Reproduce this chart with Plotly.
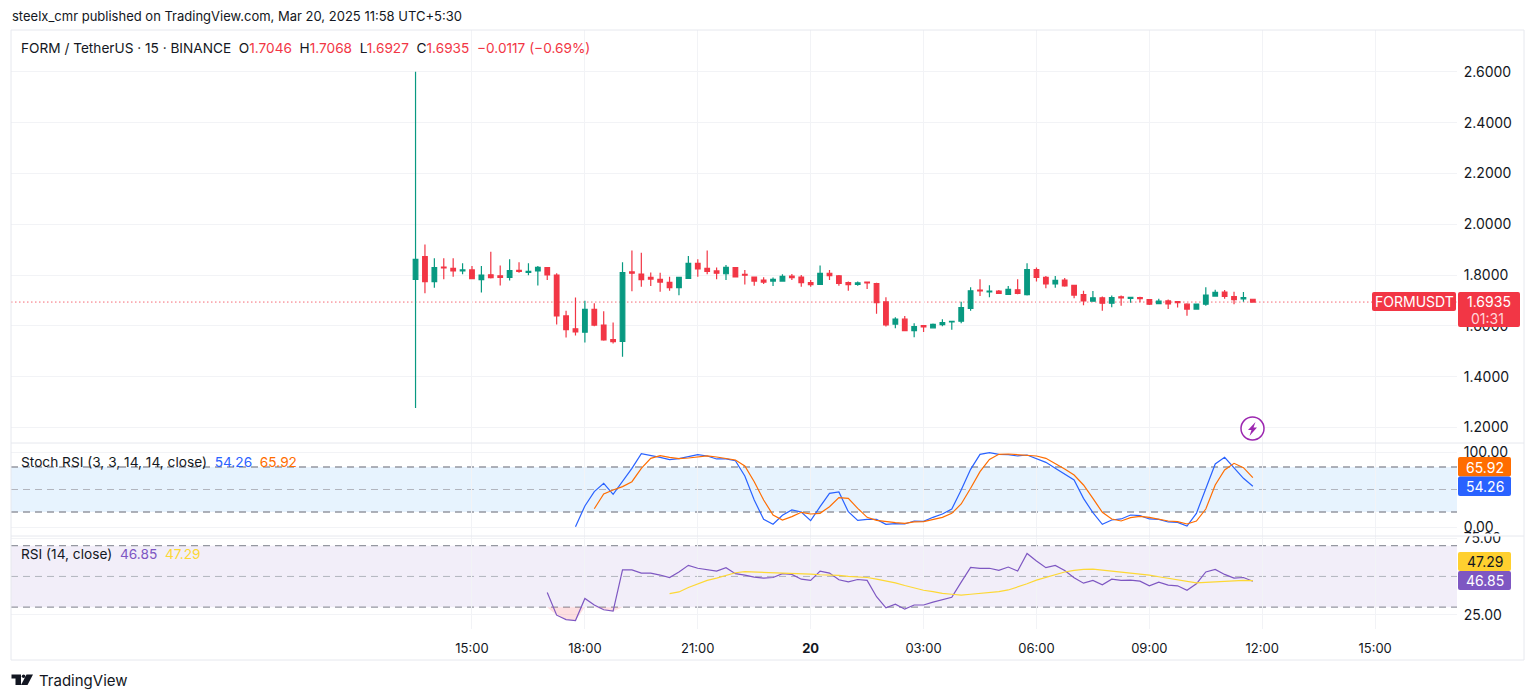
import pandas as pd
import plotly.graph_objects as go

# 15 minute candles, FORM/USDT, first one is the listing spike
times = pd.date_range("2025-03-19 13:30", periods=90, freq="15min")

opens = [1.783, 1.872, 1.774, 1.831, 1.826, 1.816, 1.820, 1.782, 1.801, 1.797,
         1.791, 1.818, 1.810, 1.816, 1.829, 1.800, 1.639, 1.588, 1.575, 1.665,
         1.603, 1.546, 1.539, 1.812, 1.804, 1.791, 1.783, 1.771, 1.750, 1.787,
         1.846, 1.826, 1.816, 1.805, 1.829, 1.803, 1.792, 1.780, 1.776, 1.776,
         1.796, 1.792, 1.770, 1.763, 1.807, 1.797, 1.770, 1.763, 1.772, 1.766,
         1.694, 1.607, 1.626, 1.581, 1.601, 1.592, 1.605, 1.615, 1.618, 1.669,
         1.741, 1.733, 1.737, 1.724, 1.742, 1.723, 1.821, 1.791, 1.765, 1.780,
         1.759, 1.723, 1.697, 1.710, 1.689, 1.714, 1.708, 1.711, 1.703, 1.687,
         1.698, 1.695, 1.685, 1.666, 1.685, 1.717, 1.733, 1.715, 1.706, 1.7046]
highs = [2.600, 1.920, 1.866, 1.866, 1.866, 1.846, 1.835, 1.835, 1.892, 1.837,
         1.862, 1.850, 1.846, 1.835, 1.830, 1.807, 1.659, 1.711, 1.699, 1.689,
         1.657, 1.613, 1.850, 1.896, 1.888, 1.810, 1.809, 1.793, 1.791, 1.875,
         1.862, 1.896, 1.830, 1.839, 1.829, 1.820, 1.793, 1.791, 1.790, 1.803,
         1.804, 1.800, 1.780, 1.837, 1.820, 1.800, 1.774, 1.774, 1.772, 1.770,
         1.712, 1.634, 1.639, 1.610, 1.603, 1.609, 1.626, 1.619, 1.695, 1.752,
         1.783, 1.760, 1.741, 1.757, 1.783, 1.846, 1.830, 1.796, 1.796, 1.788,
         1.759, 1.738, 1.737, 1.715, 1.719, 1.719, 1.712, 1.714, 1.704, 1.707,
         1.704, 1.698, 1.689, 1.685, 1.752, 1.742, 1.741, 1.734, 1.733, 1.7068]
lows = [1.276, 1.728, 1.750, 1.783, 1.793, 1.803, 1.783, 1.731, 1.786, 1.759,
        1.778, 1.809, 1.799, 1.759, 1.780, 1.605, 1.554, 1.562, 1.534, 1.598,
        1.541, 1.530, 1.478, 1.736, 1.754, 1.757, 1.734, 1.738, 1.720, 1.787,
        1.793, 1.803, 1.783, 1.780, 1.791, 1.763, 1.758, 1.765, 1.757, 1.774,
        1.780, 1.754, 1.754, 1.763, 1.780, 1.758, 1.738, 1.758, 1.745, 1.647,
        1.597, 1.590, 1.579, 1.555, 1.576, 1.590, 1.598, 1.584, 1.610, 1.659,
        1.717, 1.712, 1.725, 1.721, 1.724, 1.719, 1.774, 1.748, 1.750, 1.754,
        1.708, 1.681, 1.695, 1.659, 1.673, 1.679, 1.691, 1.693, 1.682, 1.685,
        1.666, 1.672, 1.640, 1.666, 1.679, 1.715, 1.707, 1.685, 1.695, 1.6927]
closes = [1.862, 1.774, 1.829, 1.828, 1.816, 1.820, 1.786, 1.800, 1.790, 1.791,
          1.817, 1.814, 1.814, 1.830, 1.800, 1.639, 1.585, 1.576, 1.665, 1.603,
          1.545, 1.538, 1.809, 1.807, 1.782, 1.784, 1.772, 1.750, 1.791, 1.846,
          1.824, 1.814, 1.807, 1.830, 1.793, 1.799, 1.776, 1.772, 1.783, 1.795,
          1.790, 1.770, 1.762, 1.807, 1.797, 1.767, 1.762, 1.769, 1.769, 1.691,
          1.604, 1.626, 1.581, 1.597, 1.596, 1.606, 1.613, 1.618, 1.672, 1.738,
          1.737, 1.737, 1.728, 1.744, 1.728, 1.821, 1.791, 1.765, 1.779, 1.757,
          1.721, 1.698, 1.710, 1.689, 1.711, 1.710, 1.712, 1.707, 1.685, 1.697,
          1.686, 1.691, 1.666, 1.685, 1.721, 1.732, 1.716, 1.703, 1.711, 1.6935]

# Stoch RSI, %K starts on candle 18 and %D on candle 20
stoch_k = [0.4, 28.0, 47.1, 58.2, 43.6, 60.4, 78.2, 97.8, 95.6, 92.9,
           89.8, 91.1, 93.8, 96.4, 94.7, 90.7, 90.7, 88.4, 68.0, 36.0,
           10.2, 3.6, 15.6, 22.7, 20.0, 8.4, 27.1, 44.9, 46.7, 20.4,
           8.9, 10.2, 10.2, 3.6, 4.4, 4.0, 8.0, 7.6, 12.9, 17.3,
           24.0, 49.3, 76.9, 96.9, 99.1, 96.9, 96.4, 94.7, 96.0, 91.6,
           86.2, 78.2, 70.7, 62.7, 38.2, 19.1, 3.6, 9.3, 10.7, 16.0,
           15.1, 10.7, 10.2, 6.7, 6.2, 1.3, 18.2, 51.6, 84.0, 92.9,
           78.2, 64.9, 54.26]
stoch_d = [24.4, 44.0, 49.3, 53.8, 60.4, 78.2, 91.6, 95.1, 92.9, 91.1,
           92.0, 93.8, 94.7, 93.3, 91.1, 89.3, 81.3, 60.4, 36.0, 16.0,
           9.3, 13.8, 19.6, 17.3, 18.2, 27.1, 39.1, 38.2, 24.9, 12.9,
           8.9, 7.1, 5.8, 4.9, 6.7, 7.1, 10.2, 12.9, 18.2, 30.7,
           51.6, 73.8, 90.2, 96.9, 97.3, 96.4, 96.0, 94.7, 91.6, 84.9,
           77.3, 69.3, 56.0, 38.2, 19.6, 10.7, 8.0, 12.4, 14.2, 12.9,
           10.7, 8.0, 7.1, 4.0, 8.0, 24.0, 56.0, 76.0, 84.9, 79.1,
           65.92]

# RSI starts on candle 15, its moving average on candle 28
rsi = [39.5, 24.8, 21.9, 21.3, 35.7, 31.4, 28.3, 27.4, 54.2, 54.2,
       52.2, 52.2, 50.9, 49.3, 52.9, 57.2, 55.3, 54.2, 53.5, 55.7,
       51.8, 50.9, 49.6, 48.9, 49.3, 51.8, 51.3, 48.2, 47.4, 53.5,
       52.2, 47.8, 46.5, 48.0, 47.4, 36.8, 29.6, 32.0, 28.7, 31.4,
       31.4, 33.3, 35.1, 36.4, 46.3, 55.9, 55.3, 55.3, 53.9, 56.1,
       53.5, 64.9, 60.1, 55.7, 57.2, 53.9, 49.1, 45.6, 47.4, 44.5,
       48.2, 47.4, 47.6, 46.9, 43.9, 46.3, 44.3, 43.9, 41.0, 45.2,
       52.9, 54.6, 51.3, 48.9, 49.3, 46.85]
rsi_ma = [38.8, 39.9, 42.8, 45.2, 47.4, 48.9, 50.9, 52.4, 53.1, 52.9,
          52.6, 52.4, 52.4, 52.2, 52.0, 51.5, 51.1, 50.9, 50.7, 50.0,
          49.6, 49.3, 48.2, 47.1, 45.8, 44.1, 42.3, 41.0, 40.1, 39.0,
          38.4, 37.9, 38.4, 39.0, 39.5, 40.1, 41.2, 43.0, 45.2, 47.6,
          49.3, 51.1, 52.9, 53.9, 54.6, 54.8, 54.2, 53.5, 52.9, 52.4,
          51.8, 50.9, 49.8, 48.7, 47.6, 46.5, 45.8, 46.1, 46.5, 46.9,
          47.1, 47.4, 47.29]

price_ticks = [1.2, 1.4, 1.6, 1.8, 2.0, 2.2, 2.4, 2.6]
time_ticks = ["2025-03-19 15:00", "2025-03-19 18:00", "2025-03-19 21:00",
              "2025-03-20 00:00", "2025-03-20 03:00", "2025-03-20 06:00",
              "2025-03-20 09:00", "2025-03-20 12:00", "2025-03-20 15:00"]
time_labels = ["15:00", "18:00", "21:00", "<b>20</b>", "03:00", "06:00",
               "09:00", "12:00", "15:00"]
last_price = 1.6935

W, H = 1536, 700
GREEN, RED = "#089981", "#F23645"
BLUE, ORANGE, PURPLE, YELLOW = "#2962FF", "#FF6D00", "#7E57C2", "#FDD835"
BADGE = "#9C27B0"
INK = "#131722"
GRID = "#F2F3F6"
EDGE = "#E6E8EE"
FONT = "Inter"


def fx(px):
    return px / W


def fy(px):
    return 1 - px / H


def poly(points):
    return "M" + " L".join(f"{fx(x)},{fy(y)}" for x, y in points) + " Z"


def round_box(x0, y0, x1, y1, r=2):
    return (f"M{fx(x0 + r)},{fy(y0)} L{fx(x1 - r)},{fy(y0)} Q{fx(x1)},{fy(y0)} {fx(x1)},{fy(y0 + r)} "
            f"L{fx(x1)},{fy(y1 - r)} Q{fx(x1)},{fy(y1)} {fx(x1 - r)},{fy(y1)} "
            f"L{fx(x0 + r)},{fy(y1)} Q{fx(x0)},{fy(y1)} {fx(x0)},{fy(y1 - r)} "
            f"L{fx(x0)},{fy(y0 + r)} Q{fx(x0)},{fy(y0)} {fx(x0 + r)},{fy(y0)} Z")


def label(text, x, y, size=13, color=INK, xanchor="left"):
    return dict(text=text, x=fx(x), y=fy(y), xref="paper", yref="paper", xanchor=xanchor,
                yanchor="middle", showarrow=False, align="left", borderpad=0,
                font=dict(family=FONT, size=size, color=color))


def solid(path, color):
    return dict(type="path", path=path, xref="paper", yref="paper",
                fillcolor=color, line=dict(width=0), layer="above")


def tag(x0, y0, x1, y1, color):
    return solid(round_box(x0, y0, x1, y1), color)


def hline(y0, yref, color="#9598A1", dash="7px,5px", width=1.3):
    return dict(type="line", xref="x", yref=yref, x0=xrange[0], x1=xrange[1], y0=y0, y1=y0,
                line=dict(color=color, width=width, dash=dash), layer="below")


def band(y0, y1, yref, color):
    return dict(type="rect", xref="x", yref=yref, x0=xrange[0], x1=xrange[1], y0=y0, y1=y1,
                fillcolor=color, line=dict(width=0), layer="below")


def rule(x0, y0, x1, y1, color=EDGE):
    return dict(type="line", xref="paper", yref="paper", x0=fx(x0), y0=fy(y0), x1=fx(x1), y1=fy(y1),
                line=dict(color=color, width=1), layer="above")


xrange = ["2025-03-19 02:45", "2025-03-20 17:10:30"]

fig = go.Figure()
fig.add_trace(go.Candlestick(
    x=times, open=opens, high=highs, low=lows, close=closes, whiskerwidth=0,
    increasing=dict(line=dict(color=GREEN, width=1.2), fillcolor=GREEN),
    decreasing=dict(line=dict(color=RED, width=1.2), fillcolor=RED),
    xaxis="x", yaxis="y", showlegend=False,
))
fig.add_trace(go.Scatter(x=times[17:], y=stoch_k, mode="lines", line=dict(color=BLUE, width=1.2),
                         xaxis="x2", yaxis="y2", showlegend=False))
fig.add_trace(go.Scatter(x=times[19:], y=stoch_d, mode="lines", line=dict(color=ORANGE, width=1.2),
                         xaxis="x2", yaxis="y2", showlegend=False))

# pink area where the RSI dips under 30
fig.add_trace(go.Scatter(x=times[14:23], y=[30] * 9, mode="lines", line=dict(width=0),
                         xaxis="x3", yaxis="y3", showlegend=False))
fig.add_trace(go.Scatter(x=times[14:23], y=[min(v, 30) for v in rsi[:9]], mode="lines", line=dict(width=0),
                         fill="tonexty", fillcolor="rgba(242,54,69,0.16)",
                         xaxis="x3", yaxis="y3", showlegend=False))
fig.add_trace(go.Scatter(x=times[14:], y=rsi, mode="lines", line=dict(color=PURPLE, width=1.2),
                         xaxis="x3", yaxis="y3", showlegend=False))
fig.add_trace(go.Scatter(x=times[27:], y=rsi_ma, mode="lines", line=dict(color=YELLOW, width=1.2),
                         xaxis="x3", yaxis="y3", showlegend=False))

x_common = dict(range=xrange, domain=[fx(11), fx(1457)], type="date", tickmode="array", tickvals=time_ticks,
                showgrid=True, gridcolor=GRID, gridwidth=1, zeroline=False, showline=False, automargin=False,
                rangeslider=dict(visible=False))
y_common = dict(side="right", showgrid=True, gridcolor=GRID, gridwidth=1, zeroline=False, showline=False,
                automargin=False, ticks="outside", ticklen=3, tickcolor="rgba(0,0,0,0)",
                tickfont=dict(family=FONT, size=14, color=INK))

shapes = [
    band(20, 80, "y2", "rgba(33,150,243,0.11)"),
    hline(80, "y2"), hline(50, "y2", color="#B2B5BE", width=1), hline(20, "y2"),
    band(30, 70, "y3", "rgba(126,87,194,0.1)"),
    hline(70, "y3"), hline(50, "y3", color="#B2B5BE", width=1), hline(30, "y3"),
    hline(last_price, "y", color="rgba(242,54,69,0.75)", dash="1.5px,2.5px", width=1),
    # keeps the top of the 75.00 label under the pane edge, like the reference
    dict(type="rect", xref="paper", yref="paper", x0=fx(1458), x1=fx(1522), y0=fy(533.5), y1=fy(536),
         fillcolor="white", line=dict(width=0), layer="above"),
    rule(11, 30, 1524, 30), rule(11, 30, 11, 660), rule(1524, 30, 1524, 660), rule(11, 660, 1524, 660),
    rule(11, 443, 1524, 443), rule(11, 536, 1524, 536),
    tag(1372, 292, 1456, 311, RED),
    tag(1458, 292, 1520, 327, RED),
    tag(1458, 457, 1511, 476.5, ORANGE),
    tag(1458, 476.5, 1511, 496, BLUE),
    tag(1458, 552, 1511, 571, "#FFD02F"),
    tag(1458, 571, 1511, 590, PURPLE),
    # lightning badge
    dict(type="circle", xref="paper", yref="paper", x0=fx(1241), x1=fx(1264), y0=fy(417), y1=fy(440),
         fillcolor="white", line=dict(color=BADGE, width=1.5), layer="above"),
    solid(poly([(1255.5, 422), (1248, 430), (1251.5, 430), (1249.5, 436), (1257, 427.5), (1253.5, 427.5)]), BADGE),
    # TradingView logo
    solid(poly([(11.5, 674.5), (21, 674.5), (21, 685), (15.5, 685), (15.5, 678.5), (11.5, 678.5)]), INK),
    dict(type="circle", xref="paper", yref="paper", fillcolor=INK, line=dict(width=0), layer="above",
         x0=fx(21.8), x1=fx(25.4), y0=fy(674.5), y1=fy(678.1)),
    solid(poly([(26.5, 674.5), (33, 674.5), (27.5, 685), (21, 685)]), INK),
]

annotations = [
    label("steelx_cmr published on TradingView.com, Mar 20, 2025 11:58 UTC+5:30", 11, 16),
    label(f'FORM / TetherUS · 15 · BINANCE  O<span style="color:{RED}">1.7046</span>'
          f'  H<span style="color:{RED}">1.7068</span>  L<span style="color:{RED}">1.6927</span>'
          f'  C<span style="color:{RED}">1.6935</span>  <span style="color:{RED}">−0.0117 (−0.69%)</span>',
          20, 48, size=13.65),
    label(f'Stoch RSI (3, 3, 14, 14, close)  <span style="color:{BLUE}">54.26</span>'
          f'  <span style="color:{ORANGE}">65.92</span>', 20, 462, size=13.7),
    label(f'RSI (14, close)  <span style="color:{PURPLE}">46.85</span>'
          f'  <span style="color:{YELLOW}">47.29</span>', 20, 554, size=13.7),
    label("FORMUSDT", 1414, 301.5, size=14, color="white", xanchor="center"),
    label("1.6935", 1489, 301.5, size=14, color="white", xanchor="center"),
    label("01:31", 1487, 318, size=14, color="#FFD5D9", xanchor="center"),
    label("65.92", 1485, 467, size=14, color="white", xanchor="center"),
    label("54.26", 1485, 486, size=14, color="white", xanchor="center"),
    label("47.29", 1485, 561.5, size=14, color=INK, xanchor="center"),
    label("46.85", 1485, 580.5, size=14, color="white", xanchor="center"),
    label("TradingView", 38, 680, size=15),
]

fig.update_layout(
    template="none", width=W, height=H, margin=dict(l=0, r=0, t=0, b=0), paper_bgcolor="white", plot_bgcolor="white",
    font=dict(family=FONT, color=INK), showlegend=False, hovermode=False, boxgap=0.3,
    xaxis=dict(x_common, anchor="y", showticklabels=False, ticks=""),
    xaxis2=dict(x_common, anchor="y2", showticklabels=False, ticks="", matches="x"),
    xaxis3=dict(x_common, anchor="y3", ticktext=time_labels, matches="x", ticks="outside", ticklen=7,
                tickcolor="rgba(0,0,0,0)", tickfont=dict(family=FONT, size=13, color=INK)),
    yaxis=dict(y_common, domain=[fy(443), fy(30)], range=[1.1386, 2.7646], anchor="x", tickmode="array",
               tickvals=price_ticks, tickformat=".4f"),
    yaxis2=dict(y_common, domain=[fy(536), fy(443)], range=[-12, 112], anchor="x2", tickmode="array",
                tickvals=[0, 100], tickformat=".2f"),
    yaxis3=dict(y_common, domain=[fy(629), fy(536)], range=[15.8, 76.3], anchor="x3", tickmode="array",
                tickvals=[25, 75], tickformat=".2f"),
    shapes=shapes, annotations=annotations,
)

fig.write_html("out.html", config={"displayModeBar": False}, post_script="document.body.style.margin = '0';")
